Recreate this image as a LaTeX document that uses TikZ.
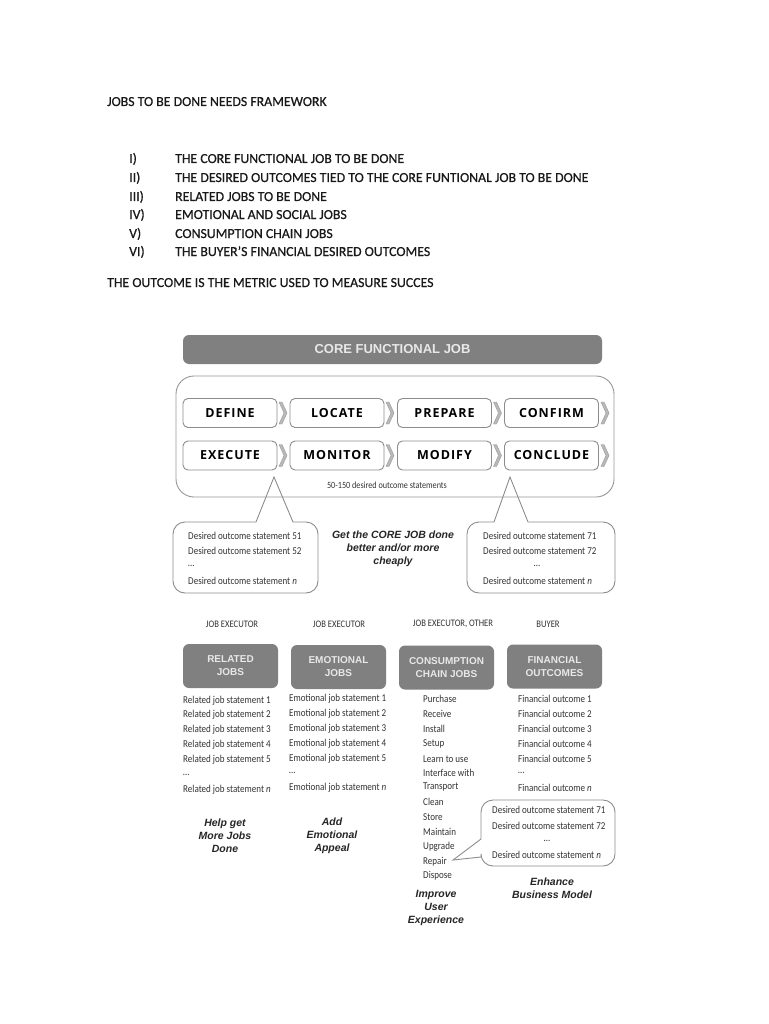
\documentclass[tikz,border=0pt]{standalone}
\usepackage{fontspec}
\setmainfont{Carlito}
\newfontfamily\arialf{Liberation Sans}
\newfontfamily\condf[FakeStretch=0.86]{Carlito}
\newfontfamily\stepf[LetterSpace=8]{Open Sans}
\newfontfamily\docf[FakeBold=0.6]{Carlito}
\definecolor{boxgray}{HTML}{808080}
\definecolor{linegray}{HTML}{8C8C8C}
\definecolor{txtgray}{HTML}{333333}
\definecolor{lighttxt}{HTML}{E8E8E8}
\tikzset{
  doc/.style={anchor=base west,inner sep=0pt,font=\docf\fontsize{13.8}{15}\selectfont,text=black!90},
  stepbox/.style={draw=linegray,line width=0.9pt,rounded corners=5pt,minimum width=94pt,minimum height=29pt,inner sep=0pt,font=\stepf\bfseries\fontsize{12.5}{14}\selectfont,text=black},
  chev/.style={fill=gray!55,draw=gray!80,line width=0.4pt},
  graybox/.style={fill=boxgray,rounded corners=6pt,inner sep=0pt,text=lighttxt,align=center,font=\arialf\bfseries\fontsize{10}{13}\selectfont},
  stmt/.style={anchor=west,inner sep=0pt,text=txtgray,font=\condf\fontsize{10.5}{12}\selectfont},
  colhead/.style={inner sep=0pt,text=txtgray,font=\condf\fontsize{10}{12}\selectfont},
  bi/.style={inner sep=0pt,align=center,text=black!85,font=\arialf\bfseries\itshape\fontsize{10.5}{13}\selectfont},
  bubble/.style={draw=linegray,line width=0.9pt,fill=white},
}
\begin{document}
\begin{tikzpicture}[x=1pt,y=-1pt]
\useasboundingbox[fill=white] (0,0) rectangle (768,1024);

% ---------- document text ----------
\node[doc] (title) at (107,106) {JOBS TO BE DONE NEEDS FRAMEWORK};
\node[doc] (n1) at (129,163) {I)};
\node[doc] (n2) at (129,182) {II)};
\node[doc] (n3) at (129,201) {III)};
\node[doc] (n4) at (129,219) {IV)};
\node[doc] (n5) at (129,238) {V)};
\node[doc] (n6) at (129,256) {VI)};
\node[doc] (t1) at (175,163) {THE CORE FUNCTIONAL JOB TO BE DONE};
\node[doc] (t2) at (175,182) {THE DESIRED OUTCOMES TIED TO THE CORE FUNTIONAL JOB TO BE DONE};
\node[doc] (t3) at (175,201) {RELATED JOBS TO BE DONE};
\node[doc] (t4) at (175,219) {EMOTIONAL AND SOCIAL JOBS};
\node[doc] (t5) at (175,238) {CONSUMPTION CHAIN JOBS};
\node[doc] (t6) at (175,256) {THE BUYER’S FINANCIAL DESIRED OUTCOMES};
\node[doc] (outc) at (107,287) {THE OUTCOME IS THE METRIC USED TO MEASURE SUCCES};

% ---------- core functional job ----------
\node[graybox,minimum width=419pt,minimum height=29pt,font=\arialf\bfseries\fontsize{13}{15}\selectfont] (core) at (392.5,349.5) {CORE FUNCTIONAL JOB};
\draw[draw=linegray!90,line width=0.9pt,rounded corners=18pt] (176,376) rectangle (614,497);

% step boxes
\foreach \nm/\lab/\cx/\cy in {
  define/DEFINE/230/413, locate/LOCATE/337/413, prepare/PREPARE/444.5/413, confirm/CONFIRM/551.5/413,
  execute/EXECUTE/230/455.5, monitor/MONITOR/337/455.5, modify/MODIFY/444.5/455.5, conclude/CONCLUDE/551.5/455.5}
  {\node[stepbox] (\nm) at (\cx,\cy) {\lab};}
% chevrons
\foreach \x in {279,386,493.5,601}{
  \foreach \cy in {413,455.5}{
    \draw[chev] (\x,\cy-11) -- (\x+3,\cy-11) -- (\x+8,\cy) -- (\x+3,\cy+11) -- (\x,\cy+11) -- (\x+5,\cy) -- cycle;
  }
}
\node[inner sep=0pt,text=txtgray,font=\condf\fontsize{9.5}{11}\selectfont] (fifty) at (387,485) {50-150 desired outcome statements};

% left callout
\coordinate (lapex) at (274,477);
\draw[bubble,rounded corners=12pt] (293,522) -- (318,522) -- (318,593) -- (173,593) -- (173,522) -- (256,522);
\draw[draw=linegray,line width=0.9pt] (256,522) -- (lapex) -- (293,522);
\node[stmt] (l1) at (188,536) {Desired outcome statement 51};
\node[stmt] (l2) at (188,551) {Desired outcome statement 52};
\node[stmt] (l3) at (188,566) {\dots};
\node[stmt] (l4) at (188,581) {Desired outcome statement \textit{n}};

% right callout
\coordinate (rapex) at (510,477);
\draw[bubble,rounded corners=12pt] (528,522) -- (615,522) -- (615,593) -- (467,593) -- (467,522) -- (494,522);
\draw[draw=linegray,line width=0.9pt] (494,522) -- (rapex) -- (528,522);
\node[stmt] (r1) at (483,536) {Desired outcome statement 71};
\node[stmt] (r2) at (483,551) {Desired outcome statement 72};
\node[stmt,anchor=center] (r3) at (537,566) {\dots};
\node[stmt] (r4) at (483,581) {Desired outcome statement \textit{n}};

\node[bi] (getcore) at (393,549) {Get the CORE JOB done\\better and/or more\\cheaply};

% ---------- four columns ----------
\node[colhead] (h1) at (232,624) {JOB EXECUTOR};
\node[colhead] (h2) at (339,624) {JOB EXECUTOR};
\node[colhead] (h3) at (453,624) {JOB EXECUTOR, OTHER};
\node[colhead] (h4) at (548,624) {BUYER};

\node[graybox,minimum width=95pt,minimum height=44pt] (related) at (230.5,666) {RELATED\\JOBS};
\node[graybox,minimum width=95pt,minimum height=44pt] (emotional) at (338.5,667) {EMOTIONAL\\JOBS};
\node[graybox,minimum width=95pt,minimum height=44pt] (consumption) at (446.5,667.5) {CONSUMPTION\\CHAIN JOBS};
\node[graybox,minimum width=95pt,minimum height=44pt] (financial) at (554.5,666.5) {FINANCIAL\\OUTCOMES};

% related
\foreach \i/\y in {1/701,2/715,3/730,4/745,5/760}
  {\node[stmt] (rj\i) at (183,\y) {Related job statement \i};}
\node[stmt] (rjd) at (183,775) {\dots};
\node[stmt] (rjn) at (183,790) {Related job statement \textit{n}};
% emotional
\foreach \i/\y in {1/699,2/714,3/729,4/744,5/759}
  {\node[stmt] (ej\i) at (289,\y) {Emotional job statement \i};}
\node[stmt] (ejd) at (289,773) {\dots};
\node[stmt] (ejn) at (289,788) {Emotional job statement \textit{n}};
% consumption
\foreach \lab/\y [count=\i] in {Purchase/699,Receive/714,Install/729,Setup/744,Learn to use/759,Interface with/773,Transport/787,Clean/802,Store/817,Maintain/832,Upgrade/847,Repair/862,Dispose/876}
  {\node[stmt] (cc\i) at (423,\y) {\lab};}
% financial
\foreach \i/\y in {1/699,2/714,3/729,4/744,5/759}
  {\node[stmt] (fo\i) at (518,\y) {Financial outcome \i};}
\node[stmt] (fod) at (518,773) {\dots};
\node[stmt] (fon) at (518,788) {Financial outcome \textit{n}};

% bottom-right callout
\coordinate (btip) at (453,860);
\draw[bubble,rounded corners=12pt] (481,857) -- (481,866) -- (615,866) -- (615,800) -- (481,800) -- (481,839);
\draw[draw=linegray,line width=0.9pt] (481,839) -- (btip) -- (481,857);
\node[stmt] (b1) at (492,810) {Desired outcome statement 71};
\node[stmt] (b2) at (492,826) {Desired outcome statement 72};
\node[stmt,anchor=center] (b3) at (547,841) {\dots};
\node[stmt] (b4) at (492,855) {Desired outcome statement \textit{n}};

% bold italic captions
\node[bi] (help) at (225,836) {Help get\\More Jobs\\Done};
\node[bi] (add) at (332,836) {Add\\Emotional\\Appeal};
\node[bi] (improve) at (436,908) {Improve\\User\\Experience};
\node[bi] (enhance) at (552,888) {Enhance\\Business Model};
\end{tikzpicture}
\end{document}
